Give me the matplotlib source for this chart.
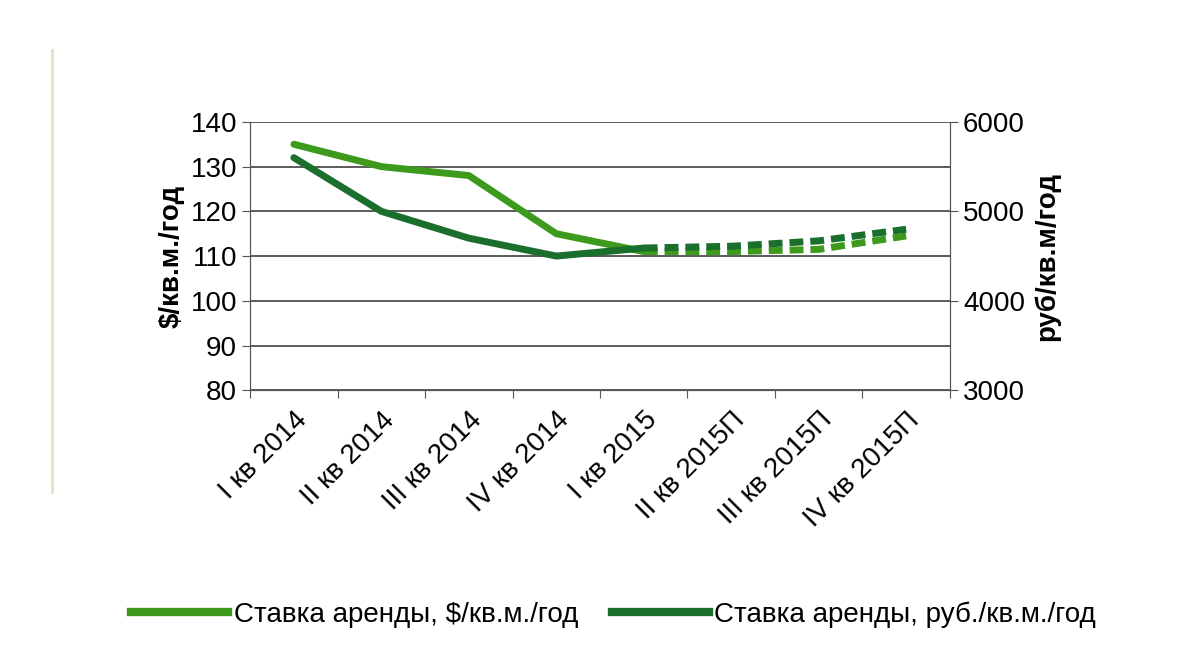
import matplotlib
matplotlib.use("Agg")
import matplotlib.pyplot as plt
from matplotlib.lines import Line2D

plt.rcParams['font.family'] = ['Liberation Sans Narrow', 'Liberation Sans', 'DejaVu Sans']

quarters = ['I кв 2014', 'II кв 2014', 'III кв 2014', 'IV кв 2014',
            'I кв 2015', 'II кв 2015П', 'III кв 2015П', 'IV кв 2015П']
usd_rate = [135, 130, 128, 115, 111, 111, 111.5, 114.5]
rub_rate = [5600, 5000, 4700, 4500, 4590, 4610, 4670, 4800]
n_fact = 5  # first 5 values are actual, rest forecast

light = '#3d9a1c'
dark = '#1b6f2c'

fig = plt.figure(figsize=(11.8, 6.66), dpi=100)
ax = fig.add_axes([0.212, 0.414, 0.593, 0.403])
ax2 = ax.twinx()

x = list(range(len(quarters)))
ax.plot(x[:n_fact], usd_rate[:n_fact], color=light, lw=5, solid_capstyle='round')
ax.plot(x[n_fact-1:], usd_rate[n_fact-1:], color=light, lw=5, ls=(0, (2, 1)))
ax2.plot(x[:n_fact], rub_rate[:n_fact], color=dark, lw=5, solid_capstyle='round')
ax2.plot(x[n_fact-1:], rub_rate[n_fact-1:], color=dark, lw=5, ls=(0, (2, 1)))

ax.set_xlim(-0.5, len(quarters) - 0.5)
ax.set_ylim(80, 140)
ax2.set_ylim(3000, 6000)
ax.set_yticks(range(80, 141, 10))
ax2.set_yticks(range(3000, 6001, 1000))
ax.grid(axis='y', color='#404040', lw=1.2)
ax.set_axisbelow(True)

ax.set_xticks([i - 0.5 for i in range(len(quarters) + 1)], minor=False)
ax.set_xticklabels([])
ax.set_xticks(x, minor=True)
ax.set_xticklabels(quarters, minor=True, rotation=45, ha='right', va='top',
                   rotation_mode='anchor', fontsize=20)
ax.tick_params(axis='x', which='minor', length=0, pad=12)
ax.tick_params(axis='x', which='major', length=6, color='#555555')
ax.tick_params(axis='y', labelsize=20, length=6, color='#555555')
ax2.tick_params(axis='y', labelsize=20, length=6, color='#555555')

for a in (ax, ax2):
    a.spines['top'].set_visible(False)
    for s in ('left', 'right', 'bottom'):
        a.spines[s].set_color('#555555')

ax.set_ylabel('$/кв.м./год', fontsize=20, fontweight='bold', labelpad=4)
ax2.set_ylabel('руб/кв.м/год', fontsize=20, fontweight='bold', labelpad=6)

handles = [Line2D([], [], color=light, lw=6), Line2D([], [], color=dark, lw=6)]
fig.legend(handles, ['Ставка аренды, $/кв.м./год', 'Ставка аренды, руб./кв.м./год'],
           loc='lower center', bbox_to_anchor=(0.52, 0.02), ncol=2, frameon=False,
           fontsize=20, handlelength=3.5, columnspacing=1.2, handletextpad=0.2)

fig.add_artist(Line2D([52 / 1180, 52 / 1180], [1 - 492 / 666, 1 - 50 / 666],
                      color='#e8dfc4', lw=2, transform=fig.transFigure))

fig.savefig('out.png', dpi=100)
